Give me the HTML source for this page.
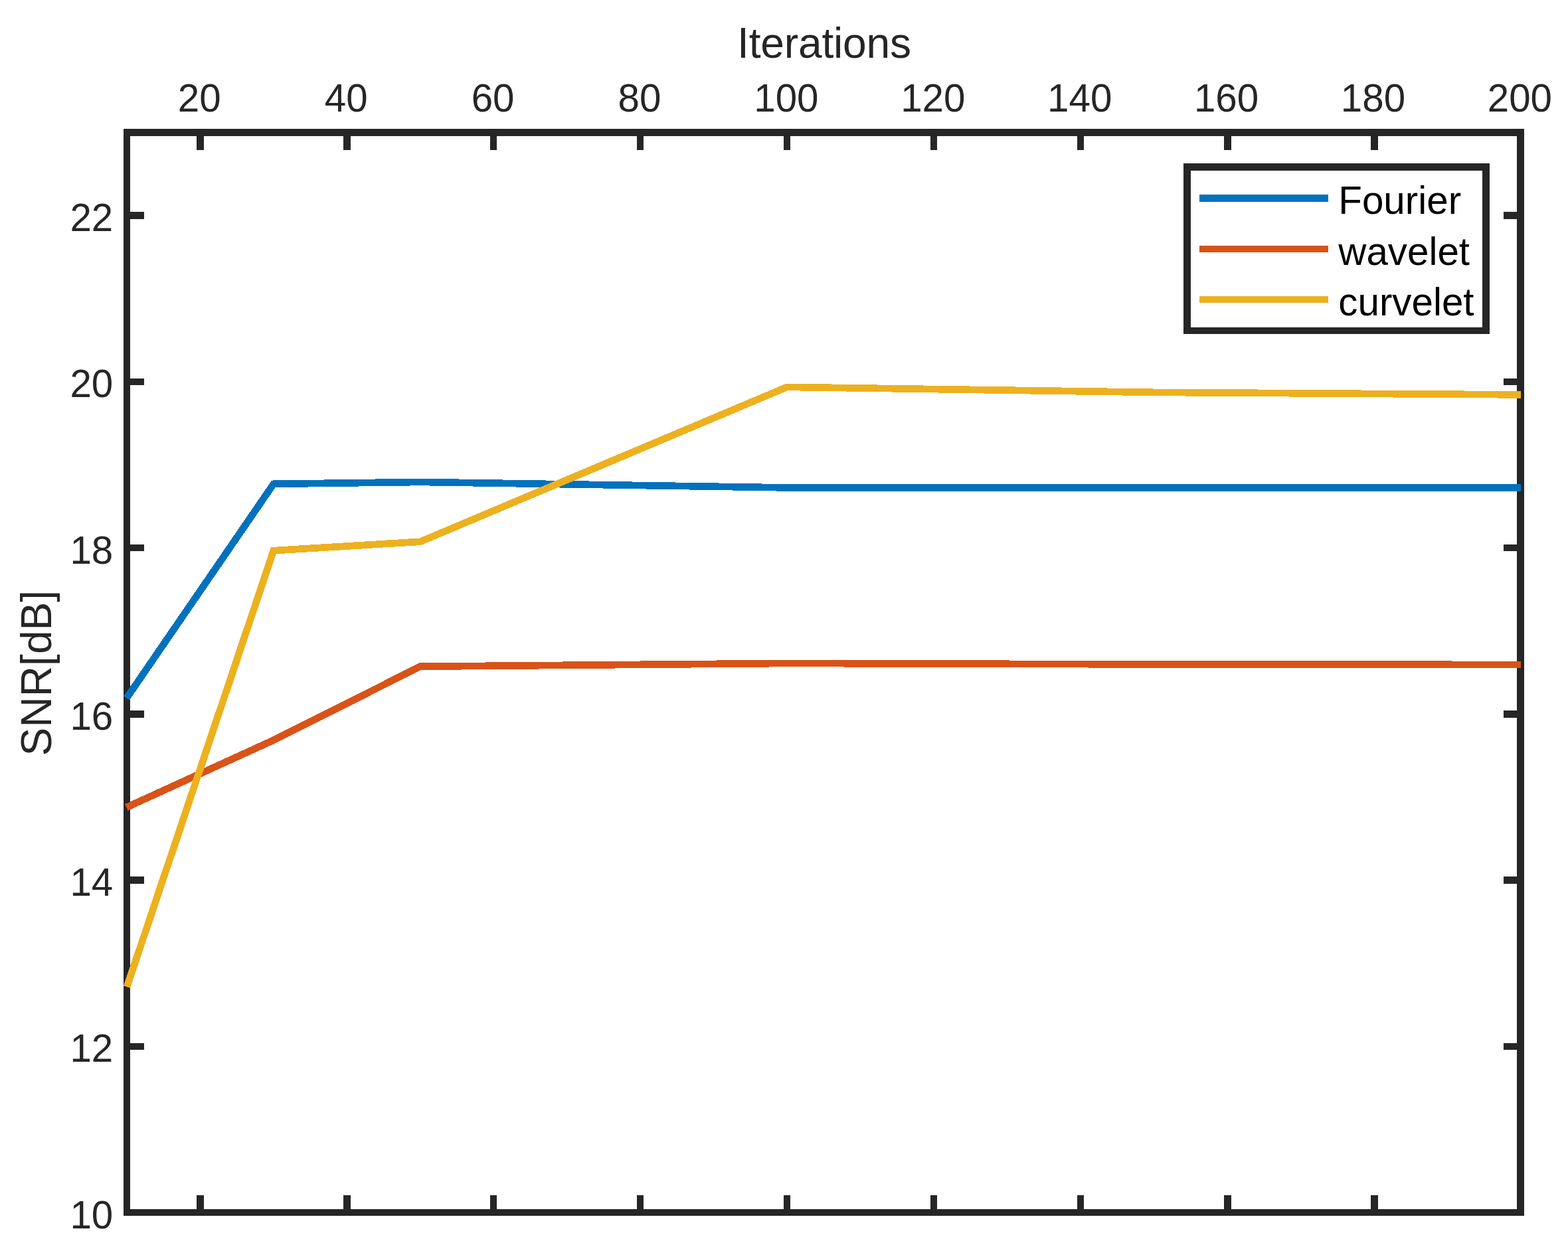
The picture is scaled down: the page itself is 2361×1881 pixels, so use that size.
<!DOCTYPE html>
<html lang="en"><head><meta charset="utf-8"><title>SNR vs Iterations</title>
<style>
html,body{margin:0;padding:0;background:#fff;}
body{width:2361px;height:1881px;overflow:hidden;}
svg{display:block;}
text{font-family:"Liberation Sans",sans-serif;fill:#262626;}
.tk{font-size:58.33px;}
.lb{font-size:64.17px;}
.lg{font-size:58.33px;fill:#000;}
</style></head><body>
<svg width="2361" height="1881" viewBox="0 0 2361 1881">
<rect x="0" y="0" width="2361" height="1881" fill="#fff"/>
<g fill="#262626" shape-rendering="crispEdges">
<!-- axes box -->
<rect x="186" y="194" width="10" height="1637"/>
<rect x="2284" y="194" width="11" height="1637"/>
<rect x="186" y="194" width="2109" height="11"/>
<rect x="186" y="1821" width="2109" height="10"/>
<!-- x ticks (top and bottom) -->
<rect x="296" y="194" width="11" height="32"/>
<rect x="296" y="1800" width="11" height="31"/>
<rect x="517" y="194" width="11" height="32"/>
<rect x="517" y="1800" width="11" height="31"/>
<rect x="738" y="194" width="10" height="32"/>
<rect x="738" y="1800" width="10" height="31"/>
<rect x="959" y="194" width="10" height="32"/>
<rect x="959" y="1800" width="10" height="31"/>
<rect x="1180" y="194" width="10" height="32"/>
<rect x="1180" y="1800" width="10" height="31"/>
<rect x="1401" y="194" width="10" height="32"/>
<rect x="1401" y="1800" width="10" height="31"/>
<rect x="1622" y="194" width="10" height="32"/>
<rect x="1622" y="1800" width="10" height="31"/>
<rect x="1843" y="194" width="11" height="32"/>
<rect x="1843" y="1800" width="11" height="31"/>
<rect x="2064" y="194" width="11" height="32"/>
<rect x="2064" y="1800" width="11" height="31"/>
<!-- y ticks (left and right) -->
<rect x="186" y="1571" width="31" height="10"/>
<rect x="2264" y="1571" width="31" height="10"/>
<rect x="186" y="1320" width="31" height="11"/>
<rect x="2264" y="1320" width="31" height="11"/>
<rect x="186" y="1070" width="31" height="11"/>
<rect x="2264" y="1070" width="31" height="11"/>
<rect x="186" y="820" width="31" height="10"/>
<rect x="2264" y="820" width="31" height="10"/>
<rect x="186" y="570" width="31" height="10"/>
<rect x="2264" y="570" width="31" height="10"/>
<rect x="186" y="319" width="31" height="11"/>
<rect x="2264" y="319" width="31" height="11"/>
</g>
<g fill="none" stroke-width="10.68" stroke-linejoin="miter" stroke-linecap="butt" shape-rendering="crispEdges">
<polyline stroke="#0072BD" points="190.60,1051.40 411.90,728.85 633.20,725.95 1185.00,734.42 1737.50,734.45 2289.80,734.50"/>
<polyline stroke="#D95319" points="190.40,1215.90 411.90,1114.70 632.80,1003.70 1185.00,998.93 1737.50,1000.44 2289.80,1000.94"/>
<polyline stroke="#EDB120" points="191.10,1486.20 411.90,829.20 632.80,815.80 1185.00,582.88 1737.50,590.86 2289.80,594.39"/>
</g>
<g class="tk">
<text x="300.3" y="168.0" text-anchor="middle">20</text>
<text x="521.2" y="168.0" text-anchor="middle">40</text>
<text x="742.1" y="168.0" text-anchor="middle">60</text>
<text x="963.0" y="168.0" text-anchor="middle">80</text>
<text x="1183.9" y="168.0" text-anchor="middle">100</text>
<text x="1404.8" y="168.0" text-anchor="middle">120</text>
<text x="1625.7" y="168.0" text-anchor="middle">140</text>
<text x="1846.6" y="168.0" text-anchor="middle">160</text>
<text x="2067.5" y="168.0" text-anchor="middle">180</text>
<text x="2288.4" y="168.0" text-anchor="middle">200</text>
<text x="170.3" y="1849.6" text-anchor="end">10</text>
<text x="170.3" y="1599.4" text-anchor="end">12</text>
<text x="170.3" y="1349.1" text-anchor="end">14</text>
<text x="170.3" y="1098.9" text-anchor="end">16</text>
<text x="170.3" y="848.7" text-anchor="end">18</text>
<text x="170.3" y="598.4" text-anchor="end">20</text>
<text x="170.3" y="348.2" text-anchor="end">22</text>
</g>
<text class="lb" x="1241.0" y="86.9" text-anchor="middle" letter-spacing="-0.2">Iterations</text>
<text class="lb" transform="translate(77.1 1013.6) rotate(-90)" text-anchor="middle">SNR[dB]</text>
<g shape-rendering="crispEdges" stroke-width="10.4167" stroke-linecap="butt">
<rect x="1787.30" y="251.40" width="450.20" height="246.40" fill="#fff" stroke="#262626"/>
<line x1="1806.00" y1="298.40" x2="2000.00" y2="298.40" stroke="#0072BD"/>
<line x1="1806.00" y1="374.80" x2="2000.00" y2="374.80" stroke="#D95319"/>
<line x1="1806.00" y1="450.90" x2="2000.00" y2="450.90" stroke="#EDB120"/>
</g>
<g class="lg">
<text class="lg" x="2015.3" y="322.1">Fourier</text>
<text class="lg" x="2015.3" y="398.6">wavelet</text>
<text class="lg" x="2015.3" y="474.7">curvelet</text>
</g>
</svg>
</body></html>
